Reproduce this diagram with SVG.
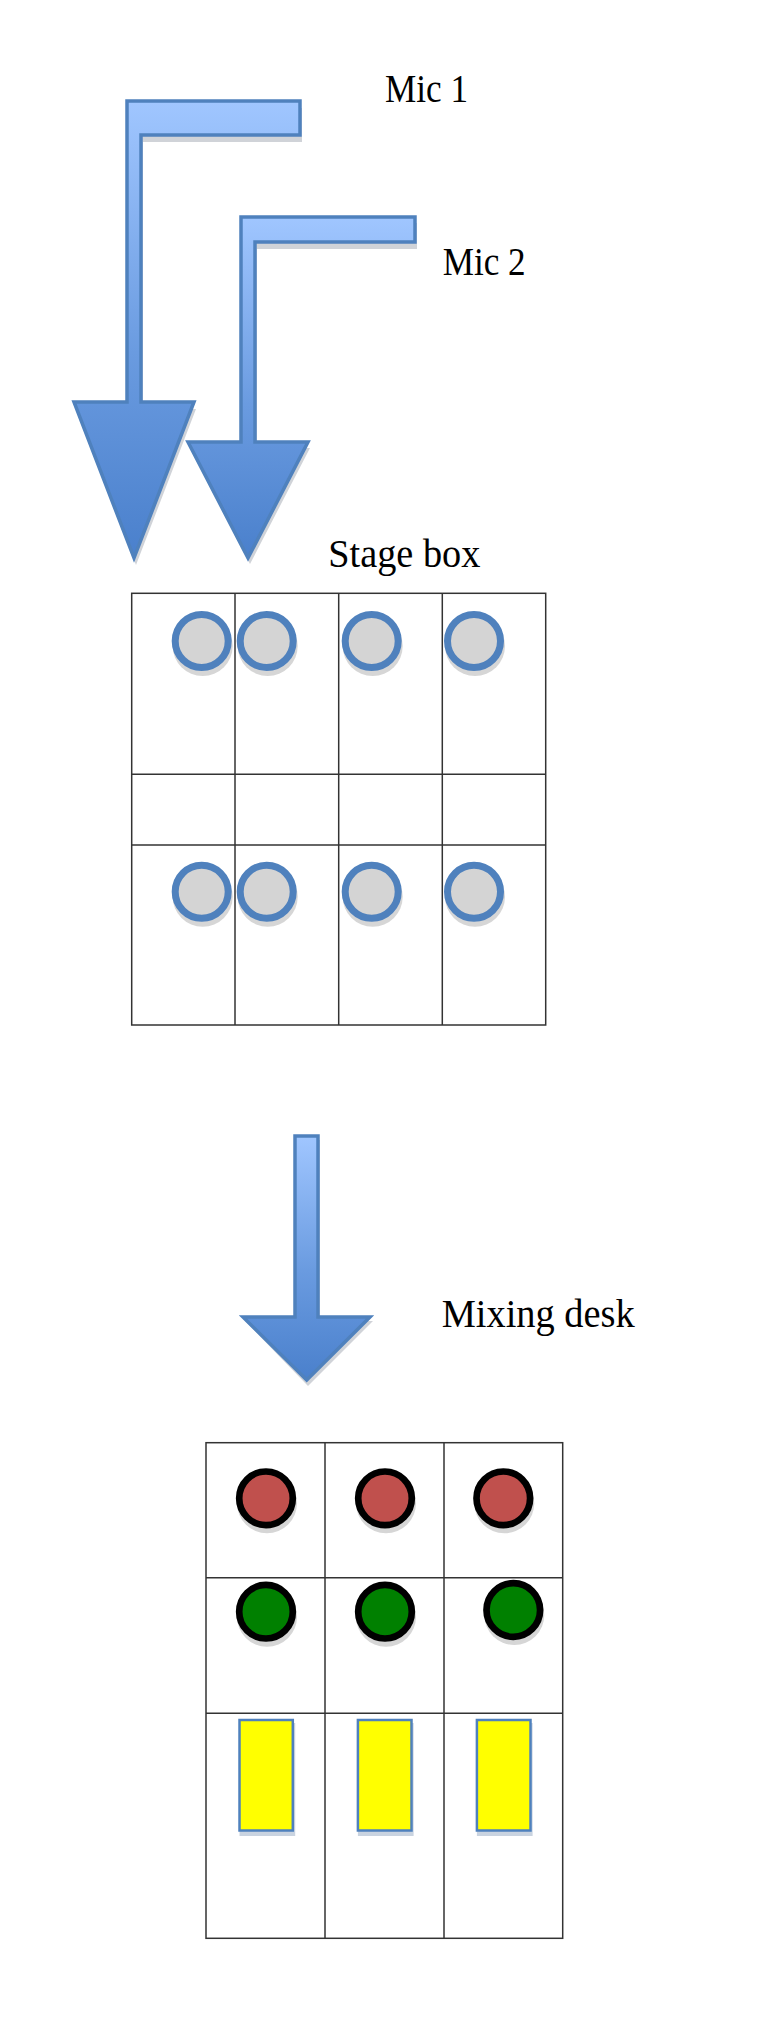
<svg xmlns="http://www.w3.org/2000/svg" width="768" height="2041" viewBox="0 0 768 2041">
<defs>
<linearGradient id="blueGrad" x1="0" y1="0" x2="0" y2="1">
<stop offset="0" stop-color="#A0C6FF"/>
<stop offset="0.55" stop-color="#6A9BE0"/>
<stop offset="1" stop-color="#4A80CC"/>
</linearGradient>
</defs>
<style>
.lbl{font-family:"Liberation Serif","DejaVu Serif",serif;font-size:39px;fill:#000}
.arrow{fill:url(#blueGrad);stroke:#4F81BD;stroke-width:3.5;stroke-linejoin:miter}
.ashadow{fill:#C4C8CE;opacity:0.8}
.grid{fill:none;stroke:#333;stroke-width:1.5}
.jack{fill:#D4D4D4;stroke:#4F81BD;stroke-width:7}
.shadow{fill:#D6D6D6}
.knob{stroke:#000;stroke-width:6.7}
.red{fill:#C0504D}
.green{fill:#008000}
.fader{fill:#FFFF00;stroke:#4F81BD;stroke-width:2.5}
.fshadow{fill:#C9D3E0}
</style>

<g id="connectors">
<g id="arrow-mic1">
<path class="ashadow" d="M 127,108 L 302,108 L 302,142 L 143,142 L 143,409 L 196,409 L 136,565 L 76,409 L 129,409 Z"/>
<path class="arrow" d="M 127,101 L 300,101 L 300,135 L 141,135 L 141,402 L 194,402 L 134,558 L 74,402 L 127,402 Z"/>
</g>
<g id="arrow-mic2">
<path class="ashadow" d="M 243,223 L 417,223 L 417,249 L 257,249 L 257,448 L 310,448 L 250,564 L 190,448 L 243,448 Z"/>
<path class="arrow" d="M 241,217 L 415,217 L 415,242 L 255,242 L 255,442 L 308,442 L 248,558 L 188,442 L 241,442 Z"/>
</g>
<g id="arrow-desk">
<path class="ashadow" d="M 297,1140 L 320,1140 L 320,1321 L 373,1321 L 308,1386 L 245,1321 L 297,1321 Z"/>
<path class="arrow" d="M 295,1136 L 318,1136 L 318,1317 L 370,1317 L 306.7,1380 L 243,1317 L 295,1317 Z"/>
</g>
</g>

<g id="label-mic1"><text class="lbl" x="385" y="101.7" textLength="83" lengthAdjust="spacingAndGlyphs">Mic 1</text></g>
<g id="label-mic2"><text class="lbl" x="442.7" y="275" textLength="83" lengthAdjust="spacingAndGlyphs">Mic 2</text></g>

<g id="stage-box">
<text class="lbl" x="328.3" y="566.7" textLength="152" lengthAdjust="spacingAndGlyphs">Stage box</text>
<rect class="grid" x="131.7" y="593.3" width="414" height="431.7" fill="#fff"/>
<line class="grid" x1="235" y1="593.3" x2="235" y2="1025"/>
<line class="grid" x1="338.7" y1="593.3" x2="338.7" y2="1025"/>
<line class="grid" x1="442.3" y1="593.3" x2="442.3" y2="1025"/>
<line class="grid" x1="131.7" y1="774.3" x2="545.7" y2="774.3"/>
<line class="grid" x1="131.7" y1="845" x2="545.7" y2="845"/>
<g id="jacks">
<circle class="shadow" cx="202.7" cy="646" r="30"/>
<circle class="jack" cx="201.7" cy="641" r="26.5"/>
<circle class="shadow" cx="267.7" cy="646" r="30"/>
<circle class="jack" cx="266.7" cy="641" r="26.5"/>
<circle class="shadow" cx="372.7" cy="646" r="30"/>
<circle class="jack" cx="371.7" cy="641" r="26.5"/>
<circle class="shadow" cx="475" cy="646" r="30"/>
<circle class="jack" cx="474" cy="641" r="26.5"/>
<circle class="shadow" cx="202.7" cy="896.7" r="30"/>
<circle class="jack" cx="201.7" cy="891.7" r="26.5"/>
<circle class="shadow" cx="267.7" cy="896.7" r="30"/>
<circle class="jack" cx="266.7" cy="891.7" r="26.5"/>
<circle class="shadow" cx="372.7" cy="896.7" r="30"/>
<circle class="jack" cx="371.7" cy="891.7" r="26.5"/>
<circle class="shadow" cx="475" cy="896.7" r="30"/>
<circle class="jack" cx="474" cy="891.7" r="26.5"/>
</g>
</g>

<g id="mixing-desk">
<text class="lbl" x="441.7" y="1326.7" textLength="193" lengthAdjust="spacingAndGlyphs">Mixing desk</text>
<rect class="grid" x="206" y="1442.7" width="356.7" height="495.6" fill="#fff"/>
<line class="grid" x1="325" y1="1442.7" x2="325" y2="1938.3"/>
<line class="grid" x1="444" y1="1442.7" x2="444" y2="1938.3"/>
<line class="grid" x1="206" y1="1577.7" x2="562.7" y2="1577.7"/>
<line class="grid" x1="206" y1="1713.3" x2="562.7" y2="1713.3"/>
<g id="knobs">
<circle class="shadow" cx="267" cy="1503.3" r="30"/>
<circle class="knob red" cx="266" cy="1498.3" r="26.8"/>
<circle class="shadow" cx="386" cy="1503.3" r="30"/>
<circle class="knob red" cx="385" cy="1498.3" r="26.8"/>
<circle class="shadow" cx="504.3" cy="1503.3" r="30"/>
<circle class="knob red" cx="503.3" cy="1498.3" r="26.8"/>
<circle class="shadow" cx="267" cy="1616.7" r="30"/>
<circle class="knob green" cx="266" cy="1611.7" r="26.8"/>
<circle class="shadow" cx="386" cy="1616.7" r="30"/>
<circle class="knob green" cx="385" cy="1611.7" r="26.8"/>
<circle class="shadow" cx="514.3" cy="1615" r="30"/>
<circle class="knob green" cx="513.3" cy="1610" r="26.8"/>
</g>
<g id="faders">
<rect class="fshadow" x="239.5" y="1723" width="55.7" height="113"/>
<rect class="fader" x="239.5" y="1720" width="53.3" height="110.5"/>
<rect class="fshadow" x="357.9" y="1723" width="55.7" height="113"/>
<rect class="fader" x="357.9" y="1720" width="53.6" height="110.5"/>
<rect class="fshadow" x="476.9" y="1723" width="55.7" height="113"/>
<rect class="fader" x="476.9" y="1720" width="53.6" height="110.5"/>
</g>
</g>
</svg>
